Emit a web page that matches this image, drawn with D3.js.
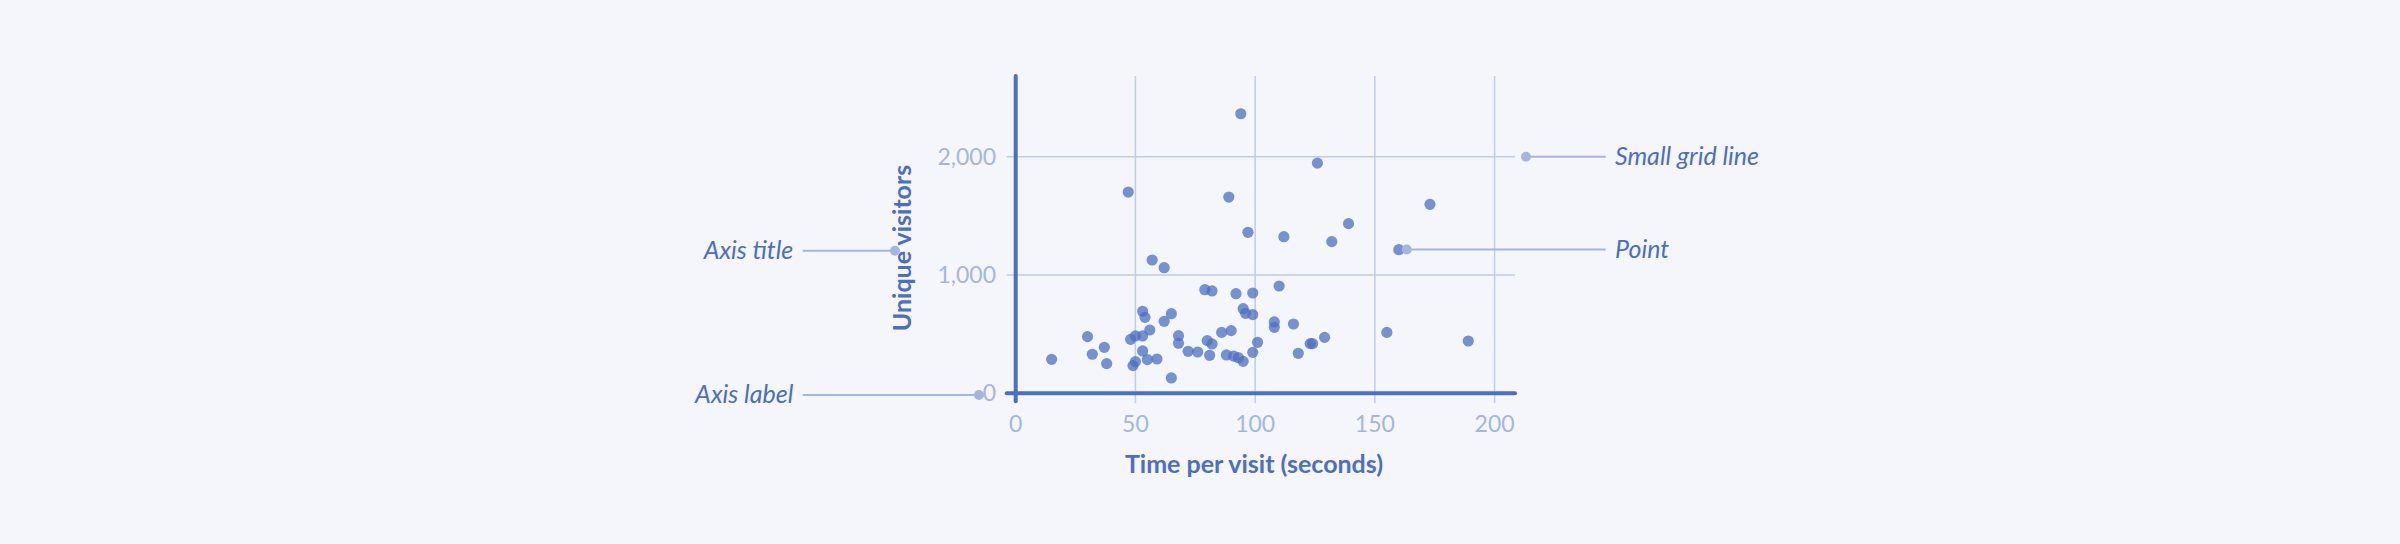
<!DOCTYPE html>
<html><head><meta charset="utf-8">
<script src="https://cdn.jsdelivr.net/npm/d3@7"></script>
<style>html,body{margin:0;padding:0;background:#f4f6fb;}</style>
</head><body>
<svg id="c" width="2400" height="544"></svg>
<script>
const timePerVisit = [15,30,32,37,38,47,48,50,49,50,53,53,54,56,53,55,59,57,62,62,65,65,68,68,72,76,79,82,80,82,81,86,90,88,91,93,95,89,94,92,95,96,99,99,97,101,99,108,108,110,112,116,118,123,124,126,129,132,139,155,160,173,189];
const uniqueVisitors = [287,479,330,389,251,1701,456,485,234,268,485,693,642,535,358,285,290,1127,1062,608,673,130,487,423,355,349,876,865,445,417,321,515,530,324,315,301,270,1659,2363,842,715,676,665,848,1361,431,346,603,558,907,1324,586,338,420,420,1946,473,1282,1434,515,1214,1597,442];
const xTicks = [0,50,100,150,200];
const yTicks = [0,1000,2000];
const xTitle = "Time per visit (seconds)";
const yTitle = "Unique visitors";
const annotations = ["Small grid line","Point","Axis title","Axis label"];

const svg = d3.select("#c");
const font = "Lato, 'Open Sans', sans-serif";
const axisC = "#4a6fc4", gridC = "#bfcdea", lightC = "#a3b6e3";
const x = d3.scaleLinear().domain([0,200]).range([1015.7,1494.6]);
const y = d3.scaleLinear().domain([0,2000]).range([393.3,156.7]);
const xMax = x.invert(1515), yMax = y.invert(76);

const g = svg.append("g");
// grid
g.selectAll(".vg").data(xTicks.slice(1)).join("line")
 .attr("x1",d=>x(d)).attr("x2",d=>x(d)).attr("y1",y(yMax)).attr("y2",y(0)+10)
 .attr("stroke",gridC).attr("stroke-width",1.5);
g.selectAll(".hg").data(yTicks.slice(1)).join("line")
 .attr("x1",x(0)-9).attr("x2",x(xMax)).attr("y1",d=>y(d)).attr("y2",d=>y(d))
 .attr("stroke",gridC).attr("stroke-width",1.5);

// points
g.selectAll("circle.p").data(timePerVisit.map((t,i)=>[t,uniqueVisitors[i]])).join("circle")
 .attr("cx",d=>x(d[0])).attr("cy",d=>y(d[1])).attr("r",5.6)
 .attr("fill",axisC).attr("fill-opacity",0.75);

// axes
g.append("line").attr("x1",x(0)).attr("x2",x(0)).attr("y1",y(yMax)).attr("y2",y(0)+8)
 .attr("stroke",axisC).attr("stroke-width",4).attr("stroke-linecap","round");
g.append("line").attr("x1",x(0)-9).attr("x2",x(xMax)).attr("y1",y(0)).attr("y2",y(0))
 .attr("stroke",axisC).attr("stroke-width",4).attr("stroke-linecap","round");

// tick labels
g.selectAll(".xt").data(xTicks).join("text").attr("x",d=>x(d)).attr("y",431.5)
 .attr("text-anchor","middle").attr("font-family",font).attr("font-size",23).attr("fill",lightC).text(d=>d);
g.selectAll(".yt").data(yTicks).join("text").attr("x",996).attr("y",d=>y(d)+8)
 .attr("text-anchor","end").attr("font-family",font).attr("font-size",23).attr("fill",lightC).text(d=>d3.format(",")(d));

// titles
g.append("text").attr("x",1254).attr("y",473).attr("text-anchor","middle")
 .attr("font-family",font).attr("font-weight","bold").attr("font-size",25).attr("fill",axisC).text(xTitle);
g.append("text").attr("transform","translate(911,248) rotate(-90)").attr("text-anchor","middle")
 .attr("font-family",font).attr("font-weight","bold").attr("font-size",25).attr("fill",axisC).text(yTitle);

// annotations
const ann = [
 {t:annotations[0], x1:1526, x2:1605.7, y:156.7, tx:1615, anchor:"start"},
 {t:annotations[1], x1:1406.8, x2:1605.7, y:249.5, tx:1615, anchor:"start"},
 {t:annotations[2], x1:895, x2:802.7, y:250.7, tx:793.3, anchor:"end"},
 {t:annotations[3], x1:979, x2:802.7, y:395, tx:793.3, anchor:"end"}
];
ann.forEach(a=>{
 g.append("line").attr("x1",a.x1).attr("x2",a.x2).attr("y1",a.y).attr("y2",a.y)
  .attr("stroke",lightC).attr("stroke-width",2);
 g.append("circle").attr("cx",a.x1).attr("cy",a.y).attr("r",5).attr("fill",lightC);
 g.append("text").attr("x",a.tx).attr("y",a.y+8).attr("text-anchor",a.anchor)
  .attr("font-family",font).attr("font-style","italic").attr("font-size",25).attr("fill",axisC).text(a.t);
});
</script>
</body></html>
